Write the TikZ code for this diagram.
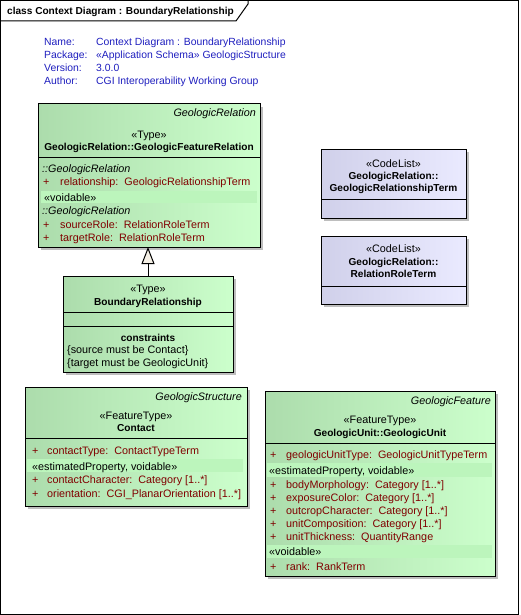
\documentclass[tikz,border=0pt]{standalone}
\usepackage{fontspec}
\setmainfont{Liberation Sans}
\usetikzlibrary{arrows.meta,shadows}
\definecolor{infoblue}{RGB}{30,30,190}
\definecolor{attrred}{RGB}{128,0,0}
\definecolor{gleft}{RGB}{172,220,172}
\definecolor{gright}{RGB}{204,255,204}
\definecolor{bleft}{RGB}{208,208,234}
\definecolor{bright}{RGB}{234,234,255}
\definecolor{band}{RGB}{188,245,188}
\definecolor{tri}{RGB}{245,240,230}
\definecolor{shadowgray}{RGB}{190,190,190}
\newcommand{\regf}{\fontsize{10.8}{12}\selectfont}
\newcommand{\infof}{\fontsize{10.4}{12}\selectfont}
\newcommand{\boldf}{\fontsize{10.1}{12}\selectfont\bfseries}
\tikzset{
  greenbox/.style={draw=black, line width=1pt, left color=gleft, right color=gright, anchor=north west, inner sep=0, outer sep=0,
    drop shadow={shadow xshift=3pt, shadow yshift=-3pt, fill=shadowgray, opacity=1}},
  bluebox/.style={greenbox, left color=bleft, right color=bright},
  bandbox/.style={fill=band, draw=none, anchor=north west, inner sep=0, outer sep=0},
  tl/.style={inner sep=0, anchor=base west, font=\regf},
  tr/.style={inner sep=0, anchor=base east, font=\regf\itshape},
  tc/.style={inner sep=0, anchor=base, font=\regf},
  tb/.style={inner sep=0, anchor=base, font=\boldf},
  info/.style={tl, text=infoblue, font=\infof},
  attr/.style={tl, text=attrred},
  ital/.style={tl, font=\regf\itshape},
  divider/.style={line width=1pt}
}
\begin{document}
\begin{tikzpicture}[x=1pt,y=-1pt]
\useasboundingbox (0,0) rectangle (520,615);
% frame
\draw[line width=1pt] (0.5,0.5) rectangle (518,614);
\draw[line width=1pt] (0.5,21) -- (236,21) -- (248,4) -- (248,0.5);
\node[inner sep=0, anchor=base west, font=\boldf] (title) at (7,15) {class Context Diagram : BoundaryRelationship};
% info
\node[info] (n1) at (44,46) {Name:};
\node[info] (n2) at (44,59) {Package:};
\node[info] (n3) at (44,72) {Version:};
\node[info] (n4) at (44,85) {Author:};
\node[info] (v1) at (96,46) {Context Diagram : BoundaryRelationship};
\node[info] (v2) at (96,59) {«Application Schema» GeologicStructure};
\node[info] (v3) at (96,72) {3.0.0};
\node[info] (v4) at (96,85) {CGI Interoperability Working Group};

% GeologicFeatureRelation
\node[greenbox, minimum width=222pt, minimum height=143pt] (gfr) at (38,104) {};
\draw[divider] (38,157) -- (260,157);
\node[bandbox, minimum width=216pt, minimum height=12pt] (gfrband) at (41,191) {};
\node[tr] (gfrpk) at (256,117) {GeologicRelation};
\node[tc] (gfrst) at (149,138) {«Type»};
\node[tb] (gfrname) at (149,150) {GeologicRelation::GeologicFeatureRelation};
\node[ital] (gfra0) at (42,172) {::GeologicRelation};
\node[attr] (gfrp1) at (43,185) {+};
\node[attr] (gfra1) at (60,185) {relationship:\ \ GeologicRelationshipTerm};
\node[tl] (gfrvd) at (44,201) {«voidable»};
\node[ital] (gfra2) at (42,214) {::GeologicRelation};
\node[attr] (gfrp3) at (43,228) {+};
\node[attr] (gfra3) at (60,228) {sourceRole:\ \ RelationRoleTerm};
\node[attr] (gfrp4) at (43,241) {+};
\node[attr] (gfra4) at (60,241) {targetRole:\ \ RelationRoleTerm};

% BoundaryRelationship
\node[greenbox, minimum width=170pt, minimum height=96pt] (br) at (63,276) {};
\draw[divider] (63,312) -- (233,312);
\draw[divider] (63,326) -- (233,326);
\node[tc] (brst) at (148,292) {«Type»};
\node[tb] (brname) at (148,305) {BoundaryRelationship};
\node[tb] (brcon) at (148,341) {constraints};
\node[tl] (brc1) at (67,353) {\{source must be Contact\}};
\node[tl] (brc2) at (67,366) {\{target must be GeologicUnit\}};

% generalization
\draw[line width=1pt, -{Triangle[length=17pt, width=13pt, fill=tri, line width=1pt]}] (br.north) -- (br.north |- gfr.south);

% CodeLists
\node[bluebox, minimum width=145pt, minimum height=69pt] (cl1) at (321,149) {};
\draw[divider] (321,199) -- (466,199);
\node[tc] (cl1st) at (393.5,167) {«CodeList»};
\node[tb] (cl1n1) at (393.5,179) {GeologicRelation::};
\node[tb] (cl1n2) at (393.5,191) {GeologicRelationshipTerm};

\node[bluebox, minimum width=145pt, minimum height=68pt] (cl2) at (321,236) {};
\draw[divider] (321,286) -- (466,286);
\node[tc] (cl2st) at (393.5,252) {«CodeList»};
\node[tb] (cl2n1) at (393.5,265) {GeologicRelation::};
\node[tb] (cl2n2) at (393.5,277) {RelationRoleTerm};

% Contact
\node[greenbox, minimum width=222pt, minimum height=119pt] (ct) at (25,387) {};
\draw[divider] (25,438) -- (247,438);
\node[bandbox, minimum width=216pt, minimum height=13pt] (ctband) at (27,459) {};
\node[tr] (ctpk) at (242,400) {GeologicStructure};
\node[tc] (ctst) at (136,419) {«FeatureType»};
\node[tb] (ctname) at (136,431) {Contact};
\node[attr] (ctp1) at (32,454) {+};
\node[attr] (cta1) at (47,454) {contactType:\ \ ContactTypeTerm};
\node[tl] (ctep) at (32,470) {«estimatedProperty, voidable»};
\node[attr] (ctp2) at (32,483) {+};
\node[attr] (cta2) at (47,483) {contactCharacter:\ \ Category [1..*]};
\node[attr] (ctp3) at (32,497) {+};
\node[attr] (cta3) at (47,497) {orientation:\ \ CGI\_PlanarOrientation [1..*]};

% GeologicUnit
\node[greenbox, minimum width=230pt, minimum height=185pt] (gu) at (265,391) {};
\draw[divider] (265,443) -- (495,443);
\node[bandbox, minimum width=225pt, minimum height=14pt] (guband1) at (267,463) {};
\node[bandbox, minimum width=225pt, minimum height=13pt] (guband2) at (267,545) {};
\node[tr] (gupk) at (491,404) {GeologicFeature};
\node[tc] (gust) at (380,423) {«FeatureType»};
\node[tb] (guname) at (380,436) {GeologicUnit::GeologicUnit};
\node[attr] (gup1) at (270,458) {+};
\node[attr] (gua1) at (286,458) {geologicUnitType:\ \ GeologicUnitTypeTerm};
\node[tl] (guep) at (269,474) {«estimatedProperty, voidable»};
\node[attr] (gup2) at (270,488) {+};
\node[attr] (gua2) at (286,488) {bodyMorphology:\ \ Category [1..*]};
\node[attr] (gup3) at (270,501) {+};
\node[attr] (gua3) at (286,501) {exposureColor:\ \ Category [1..*]};
\node[attr] (gup4) at (270,514) {+};
\node[attr] (gua4) at (286,514) {outcropCharacter:\ \ Category [1..*]};
\node[attr] (gup5) at (270,527) {+};
\node[attr] (gua5) at (286,527) {unitComposition:\ \ Category [1..*]};
\node[attr] (gup6) at (270,540) {+};
\node[attr] (gua6) at (286,540) {unitThickness:\ \ QuantityRange};
\node[tl] (guvd) at (269,555) {«voidable»};
\node[attr] (gup7) at (270,570) {+};
\node[attr] (gua7) at (286,570) {rank:\ \ RankTerm};
\end{tikzpicture}
\end{document}
